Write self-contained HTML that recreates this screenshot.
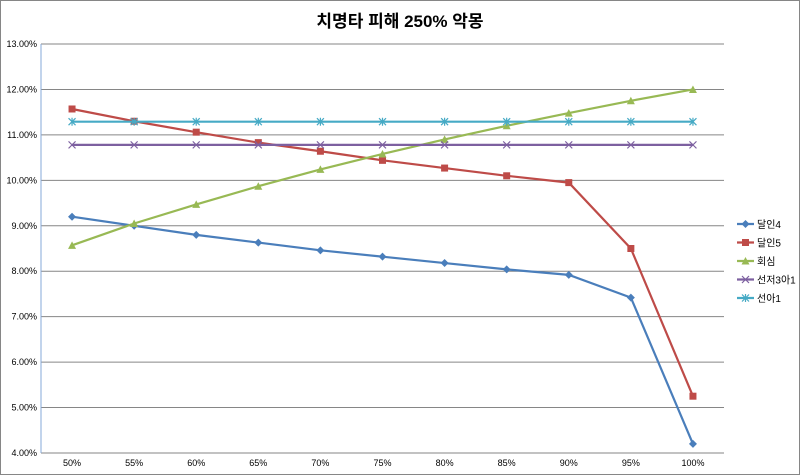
<!DOCTYPE html>
<html><head><meta charset="utf-8"><style>
body{margin:0;background:#fff;}
svg{display:block;font-family:"Liberation Sans","Noto Sans CJK KR",sans-serif;}
</style></head><body>
<svg id="chart" width="800" height="475" viewBox="0 0 800 475" xmlns="http://www.w3.org/2000/svg">
<rect x="0.5" y="0.5" width="799" height="474" fill="#fff" stroke="#868686"/>
<text x="400" y="27" text-anchor="middle" font-size="17" font-weight="bold" fill="#000" font-family="'Liberation Sans','Noto Sans CJK KR',sans-serif">치명타 피해 250% 악몽</text>
<g id="grid"></g><g id="axes"></g><g id="series"></g><g id="legend"></g>
</svg>
<script>
const categories=["50%","55%","60%","65%","70%","75%","80%","85%","90%","95%","100%"];
const yTicks=[4,5,6,7,8,9,10,11,12,13];
const seriesNames=["달인4","달인5","회심","선저3아1","선아1"];
const seriesColors=["#4a7ebb","#be4b48","#98b954","#7d60a0","#46aac5"];
const markers=["diamond","square","triangle","x","star"];
const dal4=[9.2,9.0,8.8,8.63,8.46,8.32,8.18,8.04,7.92,7.42,4.2];
const dal5=[11.57,11.3,11.06,10.83,10.64,10.44,10.27,10.1,9.95,8.5,5.25];
const hoesim=[8.57,9.05,9.47,9.87,10.24,10.58,10.9,11.2,11.48,11.75,12.0];
const seonjeo=[10.78,10.78,10.78,10.78,10.78,10.78,10.78,10.78,10.78,10.78,10.78];
const seona=[11.29,11.29,11.29,11.29,11.29,11.29,11.29,11.29,11.29,11.29,11.29];
const allSeries=[dal4,dal5,hoesim,seonjeo,seona];
const NS="http://www.w3.org/2000/svg";
const L=41,R=724,T=44,B=453,yMin=4,yMax=13;
const step=(R-L)/categories.length;
function x(i){return L+step*(i+0.5);}
function y(v){return B-(v-yMin)/(yMax-yMin)*(B-T);}
function mk(tag,attrs,parent){const e=document.createElementNS(NS,tag);for(const k in attrs)e.setAttribute(k,attrs[k]);parent.appendChild(e);return e;}
const grid=document.getElementById('grid'),axes=document.getElementById('axes'),ser=document.getElementById('series'),leg=document.getElementById('legend');
yTicks.forEach(t=>{
 const g=mk('line',{x1:L,x2:R,y1:y(t),y2:y(t),stroke:'#868686','stroke-width':1},grid);
 
 
 const tx=mk('text',{x:L-4,y:y(t)+3,'text-anchor':'end','font-size':9,fill:'#000'},axes);
 tx.textContent=t.toFixed(2)+"%";
 
 
});
const ya=mk('line',{x1:L,x2:L,y1:T,y2:B,stroke:'#86a8d8','stroke-width':1},axes);


categories.forEach((c,i)=>{
 const tx=mk('text',{x:x(i),y:B+13,'text-anchor':'middle','font-size':9,fill:'#000'},axes);
 tx.textContent=c;
 
 
});
function marker(type,cx,cy,color,parent){
 let e;
 if(type==='diamond')e=mk('polygon',{points:`${cx},${cy-4} ${cx+4},${cy} ${cx},${cy+4} ${cx-4},${cy}`,fill:color},parent);
 else if(type==='square')e=mk('rect',{x:cx-3.5,y:cy-3.5,width:7,height:7,fill:color},parent);
 else if(type==='triangle')e=mk('polygon',{points:`${cx},${cy-4} ${cx+4},${cy+3.5} ${cx-4},${cy+3.5}`,fill:color},parent);
 else if(type==='x')e=mk('path',{d:`M${cx-3.5},${cy-3.5}L${cx+3.5},${cy+3.5}M${cx+3.5},${cy-3.5}L${cx-3.5},${cy+3.5}`,stroke:color,'stroke-width':1.2,fill:'none'},parent);
 else e=mk('path',{d:`M${cx-3.5},${cy-3.5}L${cx+3.5},${cy+3.5}M${cx+3.5},${cy-3.5}L${cx-3.5},${cy+3.5}M${cx},${cy-4}L${cx},${cy+4}`,stroke:color,'stroke-width':1.2,fill:'none'},parent);
 return e;
}
allSeries.forEach((vals,s)=>{
 const g=mk('g',{},ser);
 
 
 const p=mk('polyline',{points:vals.map((v,i)=>x(i)+','+y(v)).join(' '),fill:'none',stroke:seriesColors[s],'stroke-width':2.2},g);
 
 
 vals.forEach((v,i)=>{
  const m=marker(markers[s],x(i),y(v),seriesColors[s],g);
  
  
 });
 const ly=224+s*18.5;
 const lg=mk('g',{},leg);
 
 
 mk('line',{x1:737,x2:754,y1:ly,y2:ly,stroke:seriesColors[s],'stroke-width':2.2},lg);
 marker(markers[s],745.5,ly,seriesColors[s],lg);
 const t=mk('text',{x:757,y:ly+4,'font-size':10,fill:'#000'},lg);
 t.textContent=seriesNames[s];
});
</script>
</body></html>
